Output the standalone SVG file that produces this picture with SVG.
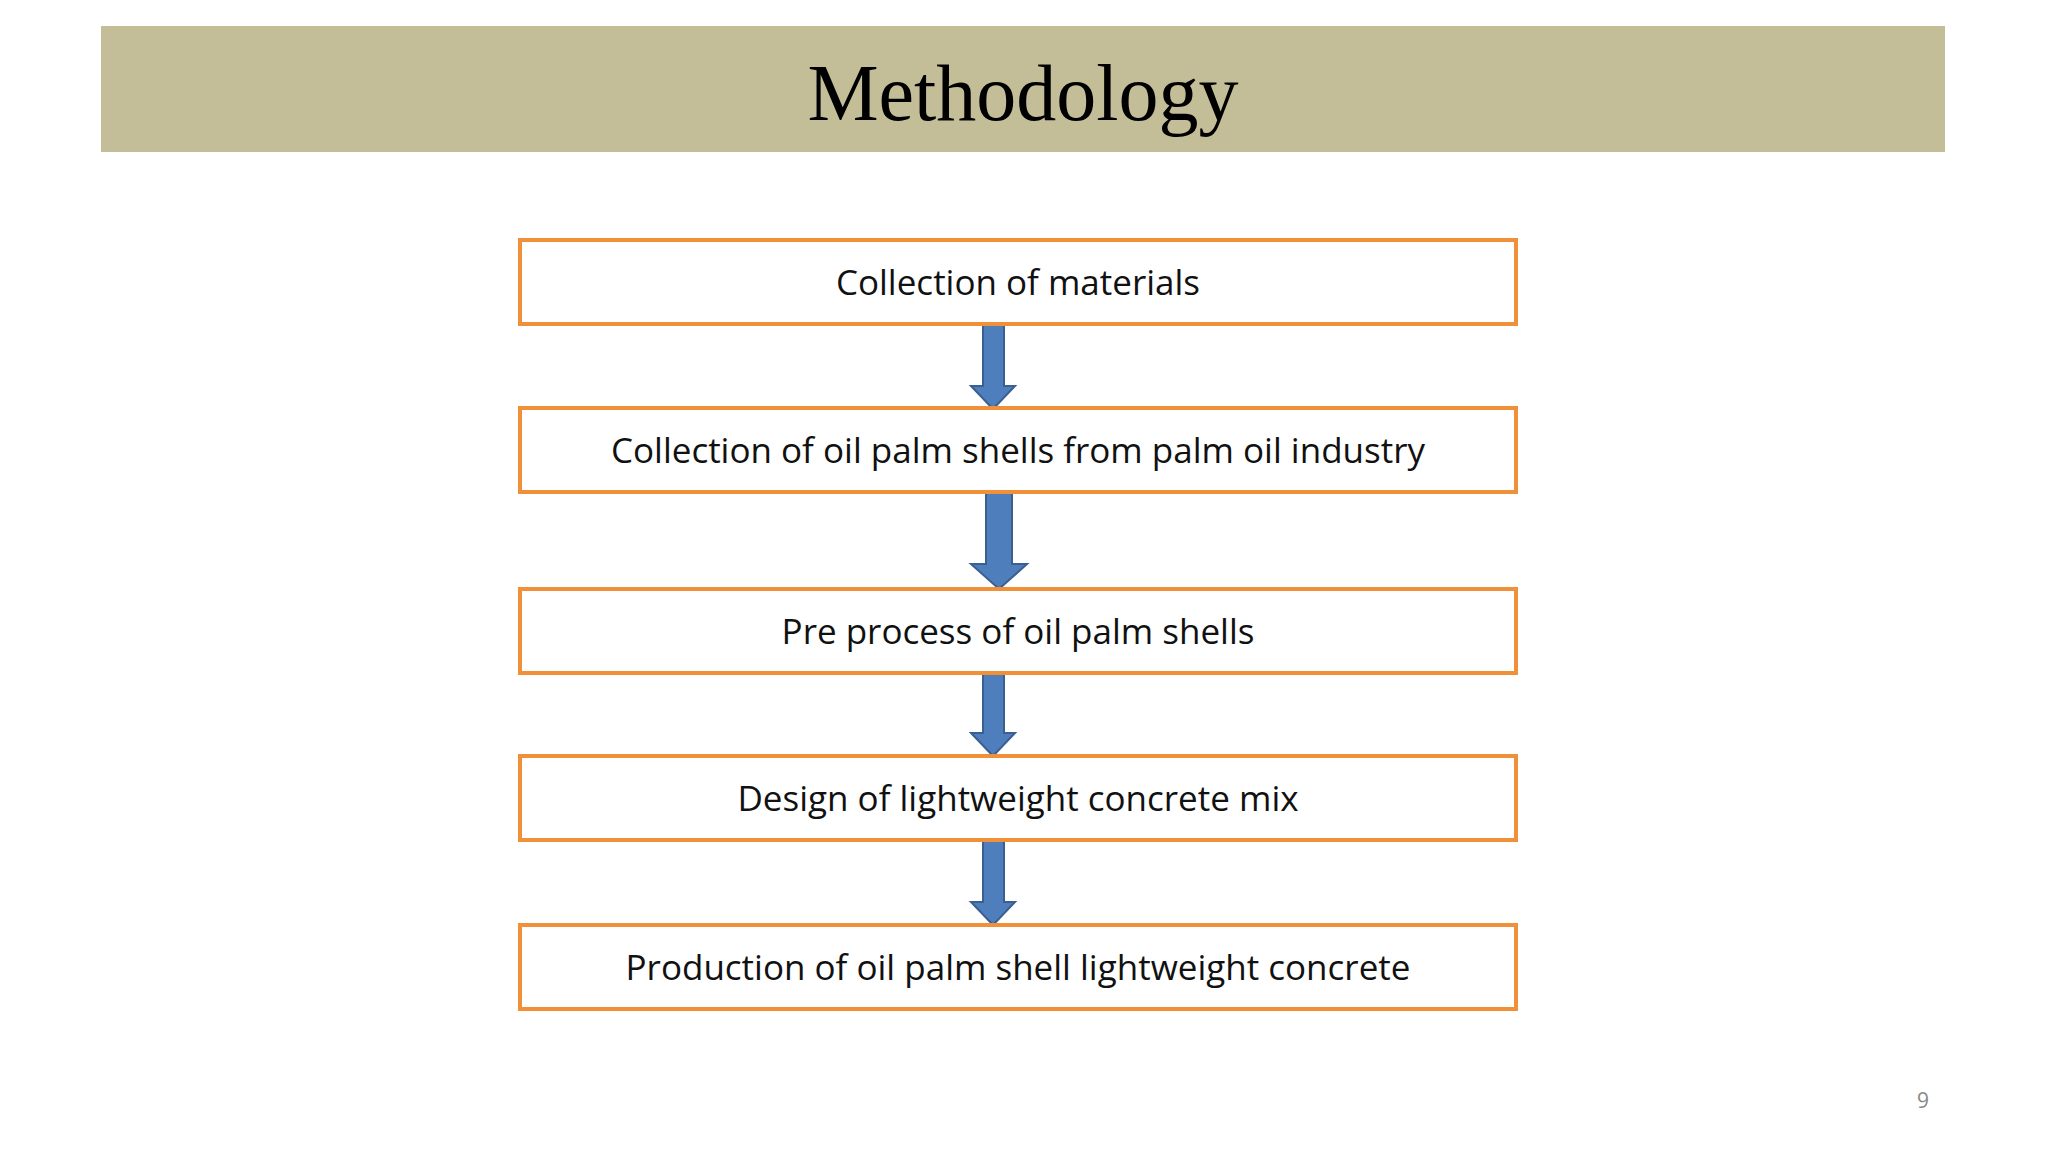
<svg xmlns="http://www.w3.org/2000/svg" width="2048" height="1152" viewBox="0 0 2048 1152">
<style>
.box{fill:#fff;stroke:#F0913A;stroke-width:4}
.t{font-family:"Open Sans","Liberation Sans",sans-serif;font-size:35px;fill:#111;text-anchor:middle}
.arr{fill:#4F7EBD;stroke:#3A5F91;stroke-width:2}
</style>
<rect x="0" y="0" width="2048" height="1152" fill="#fff"/>
<rect x="101" y="26" width="1844" height="126" fill="#C4BE98"/>
<text x="1023" y="120" font-family="Liberation Serif,serif" font-size="80" text-anchor="middle" fill="#000">Methodology</text>
<g id="connectors">
<path class="arr" d="M983,324 h21 v62 h11 l-22,23 l-22,-23 h12 z"/>
<path class="arr" d="M986,492 h26 v72 h15 l-28,25 l-28,-25 h15 z"/>
<path class="arr" d="M983,673 h21 v60 h11 l-22,23 l-22,-23 h12 z"/>
<path class="arr" d="M983,840 h21 v62 h11 l-22,23 l-22,-23 h12 z"/>
</g>
<g id="n1"><rect class="box" x="520" y="240" width="996" height="84"/><text class="t" x="1018" y="295">Collection of materials</text></g>
<g id="n2"><rect class="box" x="520" y="408" width="996" height="84"/><text class="t" x="1018" y="463">Collection of oil palm shells from palm oil industry</text></g>
<g id="n3"><rect class="box" x="520" y="589" width="996" height="84"/><text class="t" x="1018" y="644">Pre process of oil palm shells</text></g>
<g id="n4"><rect class="box" x="520" y="756" width="996" height="84"/><text class="t" x="1018" y="811">Design of lightweight concrete mix</text></g>
<g id="n5"><rect class="box" x="520" y="925" width="996" height="84"/><text class="t" x="1018" y="980">Production of oil palm shell lightweight concrete</text></g>
<text x="1923" y="1108" font-family="Open Sans,sans-serif" font-size="21" fill="#888" text-anchor="middle">9</text>
</svg>
